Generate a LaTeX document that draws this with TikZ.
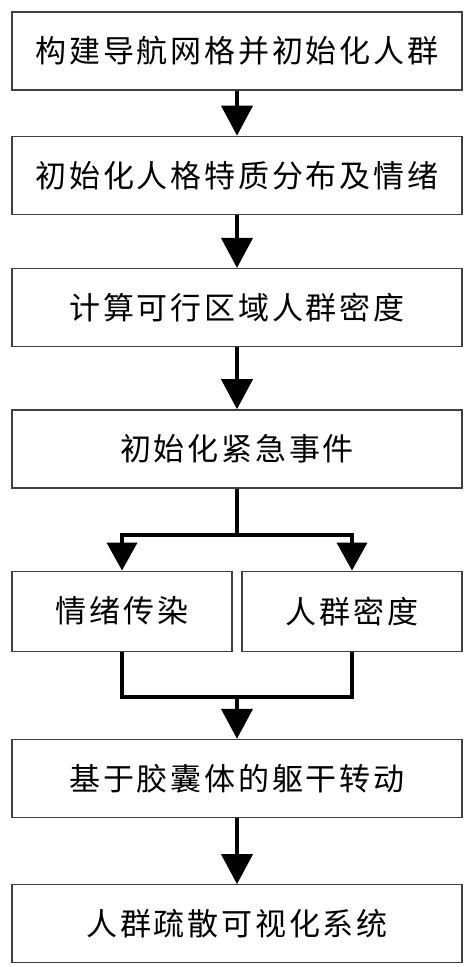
\documentclass[tikz,border=0pt]{standalone}
\usepackage{fontspec}
\newfontfamily\cjk[LetterSpace=9]{Noto Sans CJK SC}
\usetikzlibrary{positioning,arrows.meta,calc}

\begin{document}
\begin{tikzpicture}[
    >={Triangle[width=31pt,length=30pt]},
    font=\cjk\fontsize{31}{31}\selectfont,
    stepbox/.style={
        draw=black!75,
        line width=1.3pt,
        minimum width=450pt,
        minimum height=78pt,
        inner sep=0pt,
        align=center
    },
    halfbox/.style={stepbox, minimum width=220pt, minimum height=80pt},
    arrow/.style={->, line width=4pt},
    small arrow/.style={-{Triangle[width=30pt,length=28pt]}, line width=4pt},
    link/.style={line width=4pt}
]
\useasboundingbox (0,0) rectangle (474pt,967pt);

\node[stepbox] (init) at (237pt,916pt) {构建导航网格并初始化人群};
\node[stepbox, below=45pt of init] (trait) {初始化人格特质分布及情绪};
\node[stepbox, below=53pt of trait] (dens) {计算可行区域人群密度};
\node[stepbox, below=62pt of dens] (event) {初始化紧急事件};
\node[halfbox, anchor=north] (emo) at ([yshift=-82pt]event.south -| 122pt,0) {情绪传染};
\node[halfbox, anchor=north] (crowd) at ([yshift=-82pt]event.south -| 352pt,0) {人群密度};
\node[stepbox, anchor=north] (turn) at ([yshift=-87pt]emo.south -| init.south) {基于胶囊体的躯干转动};
\node[stepbox, below=66pt of turn] (vis) {人群疏散可视化系统};

\draw[arrow] (init) -- (trait);
\draw[arrow] (trait) -- (dens);
\draw[arrow] (dens) -- (event);

% split into the two branches
\coordinate (fork) at ([yshift=-46pt]event.south);
\draw[link] (event.south) -- (fork);
\draw[small arrow] (fork) -| (emo.north);
\draw[small arrow] (fork) -| (crowd.north);

% join the branches again
\coordinate (join) at ([yshift=-45pt]emo.south -| turn.north);
\draw[link] (emo.south) |- (join) -| (crowd.south);
\draw[arrow] (join) -- (turn.north);

\draw[arrow] (turn) -- (vis);

\end{tikzpicture}
\end{document}
